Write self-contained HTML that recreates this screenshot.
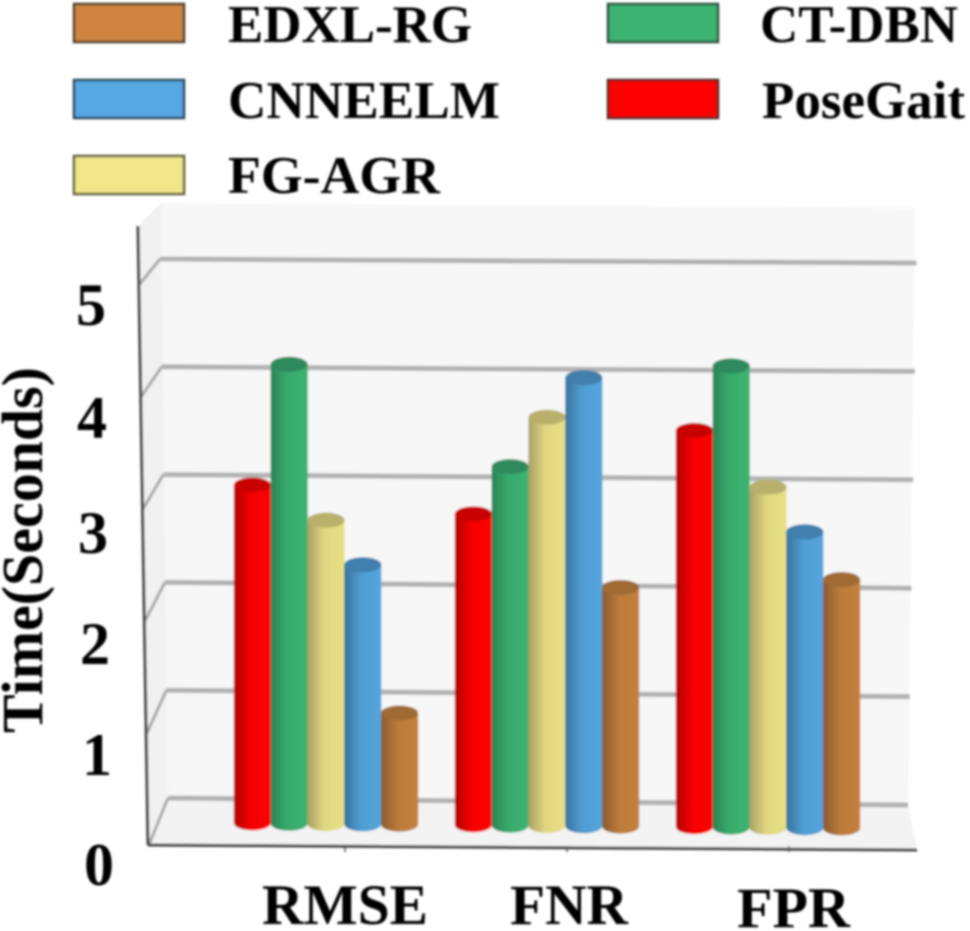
<!DOCTYPE html>
<html>
<head>
<meta charset="utf-8">
<title>Time by method</title>
<style>
html,body{margin:0;padding:0;background:#fff;width:970px;height:931px;overflow:hidden}
svg{display:block}
text{font-family:"Liberation Serif",serif;font-weight:bold;fill:#000}
</style>
</head>
<body>
<svg id="chart" xmlns="http://www.w3.org/2000/svg" width="970" height="931" viewBox="0 0 970 931">
<defs>
<filter id="soft" x="-5%" y="-5%" width="110%" height="110%"><feGaussianBlur stdDeviation="1.1"/></filter>
</defs>
<g id="root" filter="url(#soft)"></g>
</svg>
<script>
var categories = ['RMSE', 'FNR', 'FPR'];
var seriesNames = ['PoseGait', 'CT-DBN', 'FG-AGR', 'CNNEELM', 'EDXL-RG'];
var poseGait = [3.13, 2.88, 3.67];
var ctDbn = [4.25, 3.32, 4.27];
var fgAgr = [2.81, 3.78, 3.15];
var cnnEelm = [2.40, 4.15, 2.74];
var edxlRg = [1.03, 2.21, 2.30];
var yTicks = [0, 1, 2, 3, 4, 5];

var seriesValues = [poseGait, ctDbn, fgAgr, cnnEelm, edxlRg];
var NS = 'http://www.w3.org/2000/svg';
var svg = document.getElementById('chart');
var defs = svg.querySelector('defs');
var root = document.getElementById('root');

function el(tag, attrs, parent) {
  var e = document.createElementNS(NS, tag);
  for (var k in attrs) e.setAttribute(k, attrs[k]);
  (parent || root).appendChild(e);
  return e;
}
function slug(s) { return s.toLowerCase().replace(/[^a-z0-9]+/g, '-'); }

/* axis functions */
var UNIT = 108;
function catX(i) { return 326 + 221 * i; }
function barX(i, s) { return catX(i) + (s - 2) * 36.8; }
function baseY(x) { return 823 + (x - 253) * 0.0085; }
function valY(v, x) { return baseY(x) - v * UNIT; }
function backLeftX(v) { return 168 - v * 1.6; }
function backLeftY(v) { return 798 - v * 107.8; }
function backRightX(v) { return 908 + v * 1.7; }
function backRightY(v) { return 805 - v * 108.4; }
function frontX(v) { return 149 - v * 2; }
function frontY(v) { return 845 - v * 112; }

/* walls */
var backWall = el('polygon', {points: '161,203 915,208 908,805 168,798', fill: '#f7f7f7'});


var sideWall = el('polygon', {points: '138,226 161,203 168,798 148,845', fill: '#f1f1f1'});


var floorPlane = el('polygon', {points: '148,845 168,798 908,805 917,850', fill: '#f3f3f3'});



/* gridlines */
yTicks.forEach(function (v) {
  var side = el('line', {
    x1: frontX(v), y1: frontY(v), x2: backLeftX(v), y2: backLeftY(v),
    stroke: '#a8a8a8', 'stroke-width': 3
  });
  
  
  var back = el('line', {
    x1: backLeftX(v), y1: backLeftY(v), x2: backRightX(v), y2: backRightY(v),
    stroke: '#b2b2b2', 'stroke-width': 5
  });
  
  
});

/* axes */
var yAxis = el('line', {x1: 138, y1: 226, x2: 148, y2: 845, stroke: '#444', 'stroke-width': 3});


var xAxis = el('line', {x1: 148, y1: 845, x2: 917, y2: 850, stroke: '#444', 'stroke-width': 3});


categories.forEach(function (c, i) {
  var tx = catX(i) + 19 + i * 1;
  var t = el('line', {x1: tx, y1: 846, x2: tx, y2: 852, stroke: '#555', 'stroke-width': 1.5});
  
  
});

/* bars */
var colors = [
  {dark: '#b30000', main: '#f40000', light: '#ff0000', top: '#c80000'},
  {dark: '#2a8256', main: '#38ab6c', light: '#3cb371', top: '#2f8a5b'},
  {dark: '#a9a064', main: '#e0d781', light: '#e8e084', top: '#b9b06c'},
  {dark: '#39739f', main: '#4f9dd2', light: '#55a5dc', top: '#3f7fae'},
  {dark: '#8a5a2e', main: '#bb7b3b', light: '#c4803e', top: '#a06a32'}
];
colors.forEach(function (c, s) {
  var lg = el('linearGradient', {id: 'grad' + s, x1: 0, y1: 0, x2: 1, y2: 0}, defs);
  el('stop', {offset: '0', 'stop-color': c.dark}, lg);
  el('stop', {offset: '0.45', 'stop-color': c.main}, lg);
  el('stop', {offset: '1', 'stop-color': c.light}, lg);
});
var RX = 18.6, RY = 7.5;
categories.forEach(function (cat, i) {
  seriesNames.forEach(function (name, s) {
    var x = barX(i, s);
    var top = valY(seriesValues[s][i], x);
    var base = baseY(x);
    var bar = el('g', {});
    
    
    el('path', {
      d: 'M' + (x - RX) + ' ' + top + ' L' + (x - RX) + ' ' + base +
         ' A' + RX + ' ' + RY + ' 0 0 0 ' + (x + RX) + ' ' + base +
         ' L' + (x + RX) + ' ' + top + ' Z',
      fill: 'url(#grad' + s + ')'
    }, bar);
    el('ellipse', {cx: x, cy: top, rx: RX, ry: RY, fill: colors[s].top}, bar);
  });
});

/* y tick labels */
var yLabelX = [99, 97, 95, 93, 92, 91];
var yLabelY = [885, 775, 664, 553, 438, 325];
yTicks.forEach(function (v, k) {
  var t = el('text', {x: yLabelX[k], y: yLabelY[k], 'text-anchor': 'middle', 'font-size': 60});
  t.textContent = String(v);
  
  
});

/* y title */
var yTitle = el('text', {
  x: 0, y: 0, transform: 'translate(42,733) rotate(-90)', 'font-size': 58,
  textLength: 366, lengthAdjust: 'spacingAndGlyphs'
});
yTitle.textContent = 'Time(Seconds)';



/* category labels */
var catLabelX = [262, 510, 737];
var catLabelW = [166, 118, 113];
var catLabelY = [924, 924, 927];
categories.forEach(function (c, i) {
  var t = el('text', {
    x: catLabelX[i], y: catLabelY[i], 'font-size': 57,
    textLength: catLabelW[i], lengthAdjust: 'spacingAndGlyphs'
  });
  t.textContent = c;
  
  
});

/* legend */
var legendNames = ['EDXL-RG', 'CNNEELM', 'FG-AGR', 'CT-DBN', 'PoseGait'];
var legendFill = ['#cc843f', '#55a8e2', '#efe68a', '#3cb371', '#ff0000'];
var legendStroke = ['#4a3a2a', '#2a3f50', '#5a5638', '#2a4a38', '#4a2020'];
var legendSwatchX = [74, 74, 74, 608, 608];
var legendSwatchY = [4, 80, 156, 4, 80];
var legendTextX = [228, 228, 228, 760, 762];
var legendTextY = [42, 118, 193, 42, 118];
var legendTextW = [244, 272, 212, 198, 203];
legendNames.forEach(function (n, i) {
  var g = el('g', {});
  
  
  var r = el('rect', {
    x: legendSwatchX[i], y: legendSwatchY[i], width: 110, height: 38,
    fill: legendFill[i], stroke: legendStroke[i], 'stroke-width': 2.4
  }, g);
  
  
  var t = el('text', {
    x: legendTextX[i], y: legendTextY[i], 'font-size': 53,
    textLength: legendTextW[i], lengthAdjust: 'spacingAndGlyphs'
  }, g);
  t.textContent = n;
  
  
});
</script>
</body>
</html>
